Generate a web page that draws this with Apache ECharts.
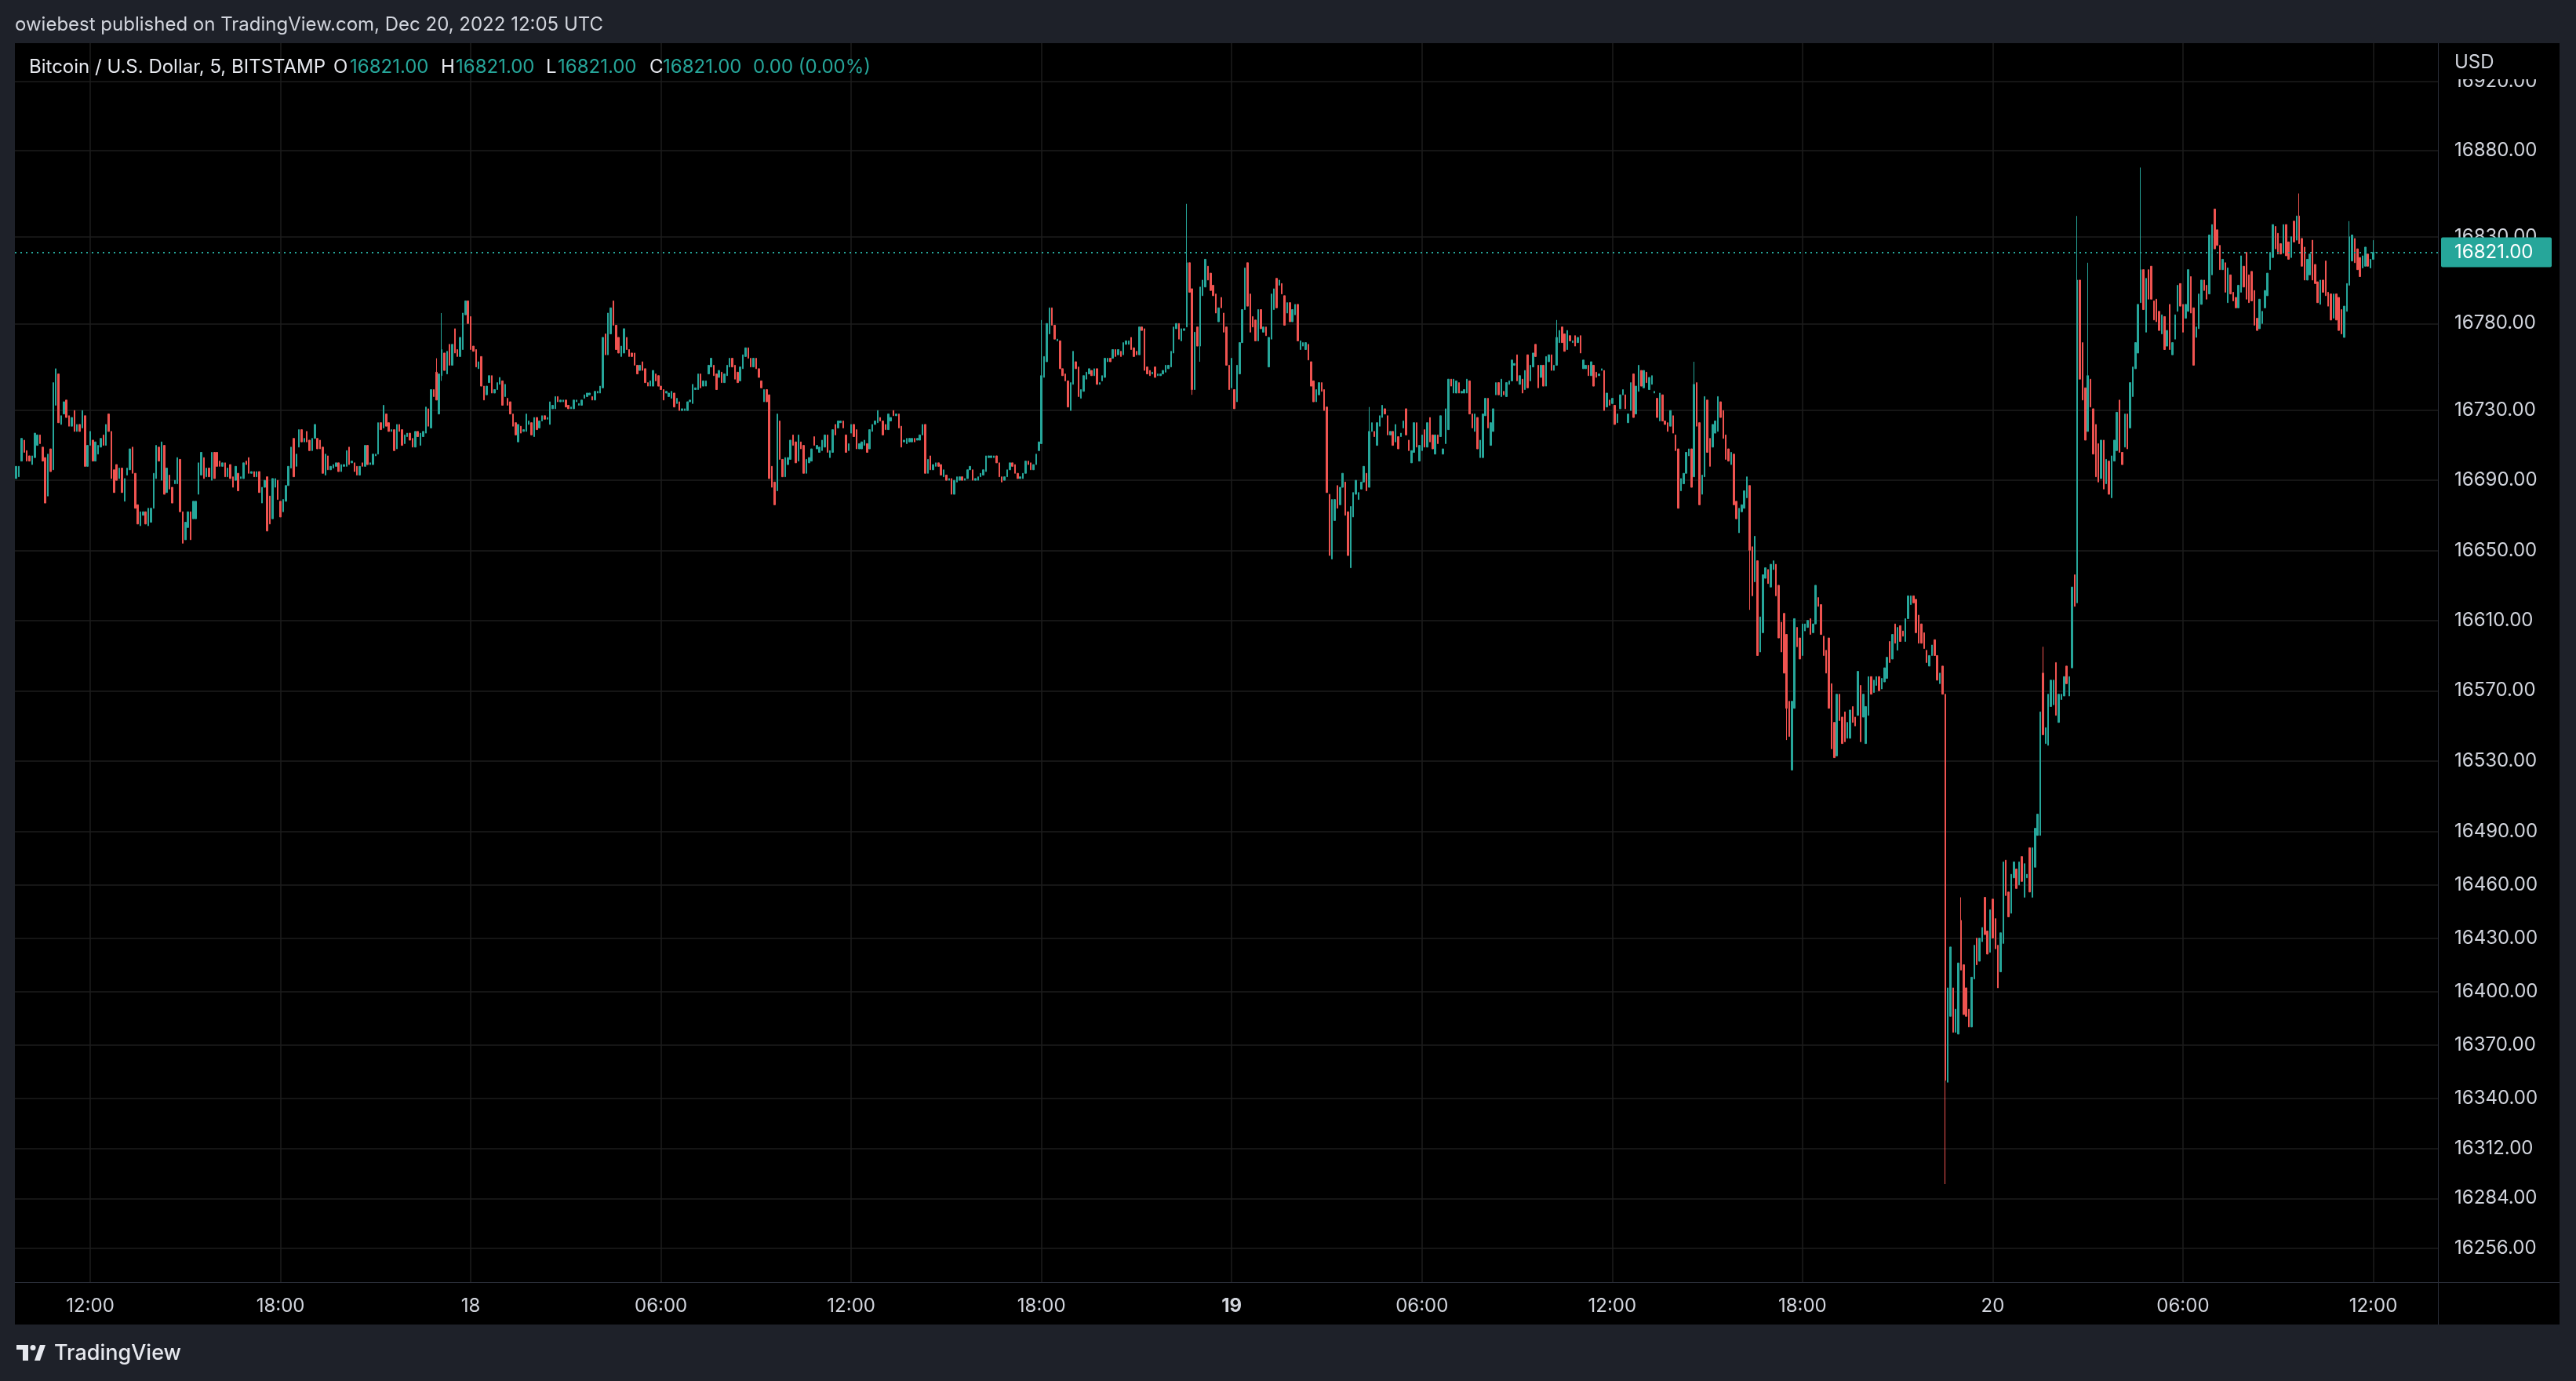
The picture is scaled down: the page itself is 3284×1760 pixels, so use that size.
<!DOCTYPE html>
<html>
<head>
<meta charset="utf-8">
<script src="https://cdn.jsdelivr.net/npm/echarts@6/dist/echarts.min.js"></script>
<style>
html,body{margin:0;padding:0;background:#1e2129;}
#chart{width:3284px;height:1760px;}
</style>
</head>
<body>
<div id="chart"></div>
<script>
// ---- DATA (5-minute candles, [open, close] or [open, close, low, high]) ----
const firstCandleUTC = Date.UTC(2022, 11, 17, 9, 40);
const slotMinutes = 5;
const slotCount = 917;

const candlesDec17 = [
[16691,16698],[16692,16698],[16701,16714],[16713,16706],[16707,16701],[16704,16701],[16699,16704],[16703,16717],[16710,16716],[16716,16711],
[16709,16701],[16703,16677],[16681,16705],[16708,16695],[16696,16746],[16733,16754],[16751,16723],[16722,16727],[16728,16735],[16736,16726],
[16727,16721],[16721,16726],[16730,16718],[16718,16722],[16722,16718],[16720,16730],[16727,16698],[16698,16710],[16710,16718],[16713,16701],
[16701,16712],[16705,16710],[16709,16714],[16716,16710],[16710,16722],[16728,16718],[16718,16691],[16696,16683],[16699,16690],[16691,16697],
[16697,16683],[16678,16691],[16693,16697],[16696,16708],[16709,16694],[16694,16674],[16676,16665],[16664,16672],[16670,16672],[16672,16665],
[16664,16674],[16666,16674],[16674,16694],[16691,16710],[16709,16701],[16690,16712],[16710,16682],[16683,16697],[16693,16685],[16686,16677],
[16688,16690],[16688,16703],[16702,16672],[16672,16654],[16656,16666],[16663,16672],[16672,16656],[16668,16678],[16668,16678],[16682,16700],
[16693,16706],[16703,16691],[16692,16697],[16697,16692],[16690,16706],[16706,16691],[16706,16698],[16701,16698],[16698,16700],[16700,16692],
[16692,16697],[16699,16691],[16692,16686],[16690,16698],[16694,16684],[16691,16692],[16691,16700],[16701,16699],[16703,16694],
[16694,16695],[16695,16692],[16692,16695],[16695,16683],[16677,16686],[16686,16690],[16692,16661],[16681,16665],[16668,16691],[16686,16691],
[16690,16679],[16678,16669],[16672,16679],[16678,16687],[16687,16698],[16697,16709],[16714,16692],[16698,16705],[16709,16719],[16719,16712],
[16712,16714],[16718,16712],[16713,16707],[16707,16714],[16714,16722],[16714,16708],[16713,16708],[16709,16694],[16693,16705],[16704,16696],
[16696,16698],[16697,16699],[16698,16700],[16700,16695],[16695,16699],[16698,16699],[16698,16707],[16709,16699],[16700,16701],[16700,16695],
[16698,16693],[16693,16698],[16700,16698],[16698,16710],[16710,16699],[16699,16700],[16699,16705],[16704,16705],[16705,16723],[16723,16719],
[16720,16733],[16728,16721],[16723,16718],[16718,16719],[16719,16707],[16708,16722],[16722,16718],[16719,16710],[16711,16716],[16715,16717],
[16717,16713],[16714,16709],[16709,16718],[16718,16715],[16710,16717],[16715,16718],[16717,16732],[16731,16721],[16720,16742],[16742,16738],
[16752,16736,16736,16760],[16728,16751],[16750,16765,16747,16786],[16763,16753],[16751,16764],[16768,16756],[16756,16768],[16777,16763],[16765,16761],[16761,16772],
[16765,16786],[16785,16793],[16793,16780]
];

const candlesDec18 = [
[16784,16765],[16767,16764],[16765,16755],[16754,16758],[16761,16744],[16744,16736],
[16739,16744],[16746,16750],[16750,16740],[16740,16742],[16742,16746],[16745,16749],[16747,16733],[16738,16745],[16737,16733],[16735,16728],
[16728,16721],[16723,16716],[16712,16722],[16721,16717],[16718,16719],[16718,16728],[16722,16724],[16723,16716],[16715,16726],[16726,16719],
[16720,16724],[16724,16727],[16727,16725],[16725,16726],[16722,16735],[16731,16733],[16731,16738],[16738,16735],[16735,16736],[16735,16736],
[16736,16732],[16733,16731],[16731,16732],[16731,16736],[16735,16736],[16733,16734],[16733,16736],[16737,16739],[16738,16740],[16739,16740],
[16738,16736],[16736,16741],[16740,16741],[16740,16744],[16743,16772],[16774,16762],[16762,16786],[16774,16789],[16793,16779],[16779,16765],
[16772,16763],[16761,16767],[16763,16777],[16772,16765],[16765,16761],[16763,16761],[16763,16756],[16756,16751],[16753,16756],[16758,16753],
[16754,16746],[16746,16744],[16744,16747],[16744,16753],[16751,16747],[16750,16744],[16744,16742],[16742,16736],[16740,16741],[16738,16740],
[16737,16741],[16740,16732],[16734,16737],[16735,16730],[16730,16731],[16730,16731],[16730,16735],[16735,16736],[16734,16745],[16742,16743],
[16742,16751],[16751,16743],[16744,16747],[16744,16747],[16751,16756],[16755,16760],[16756,16750],[16751,16742],[16749,16753],[16752,16746],
[16746,16751],[16750,16756],[16755,16760],[16760,16755],[16756,16748],[16752,16746],[16747,16755],[16754,16762],[16761,16766],[16766,16760],
[16760,16755],[16755,16760],[16760,16754],[16754,16749],[16747,16743],[16735,16742],[16742,16735],[16739,16691],[16698,16686],[16689,16676],
[16684,16728],[16724,16702],[16702,16692],[16692,16703],[16699,16703],[16702,16713],[16716,16710],[16712,16700],[16701,16716],[16712,16708],
[16710,16694],[16694,16702],[16700,16703],[16701,16708],[16715,16710],[16708,16710],[16706,16709],[16707,16713],[16709,16716],[16716,16706],
[16703,16707],[16706,16719],[16722,16716],[16720,16724],[16723,16724],[16724,16720],[16716,16706],[16707,16711],[16717,16722],[16722,16715],
[16719,16708],[16708,16711],[16708,16712],[16710,16713],[16711,16706],[16708,16719],[16718,16722],[16722,16724],[16723,16730],[16726,16724],
[16724,16716],[16722,16719],[16719,16728],[16724,16726],[16730,16727],[16727,16728],[16728,16720],[16721,16709],[16712,16713],[16711,16714],
[16712,16714],[16712,16714],[16714,16712],[16713,16714],[16713,16716],[16716,16722],[16722,16694],[16694,16702],[16704,16696],[16696,16699],
[16698,16700],[16700,16698],[16699,16693],[16692,16696],[16693,16690],[16690,16691],[16691,16682],[16682,16690],[16689,16692],[16690,16692],
[16692,16690],[16690,16691],[16691,16696],[16696,16698],[16696,16690],[16690,16691],[16690,16692],[16692,16694],[16693,16696],[16695,16704],
[16703,16704],[16703,16704],[16703,16704],[16704,16700],[16700,16692],[16692,16689],[16690,16692],[16692,16696],[16696,16700],[16700,16698],
[16699,16694],[16694,16691],[16691,16692],[16691,16694],[16694,16701],[16701,16699],[16700,16696],[16696,16699],[16699,16705],[16707,16712],
[16711,16750,16711,16782],[16749,16761],[16758,16780],[16774,16789],[16789,16779],[16779,16771],[16770,16771],[16770,16754],[16754,16750],[16751,16747],
[16747,16732],[16730,16746],[16745,16764],[16758,16754],[16755,16738],[16737,16742],[16741,16750],[16748,16752],[16751,16754],[16753,16750],
[16750,16754],[16754,16745],[16745,16746],[16747,16750],[16749,16760],[16758,16760],[16760,16758],[16760,16765],[16765,16761],[16762,16765],
[16764,16761],[16762,16769],[16768,16770],[16768,16770],[16772,16765],[16766,16761],[16764,16762],[16762,16778],[16778,16776],[16777,16753],
[16755,16751],[16753,16750],[16751,16752],[16755,16749],[16750,16751],[16750,16751],[16751,16753],[16752,16756],[16754,16756],[16755,16764],
[16763,16778],[16777,16780],[16780,16771],[16770,16777],[16776,16777],[16778,16815,16778,16849],[16815,16798],[16800,16742,16739,16800],[16742,16775],[16778,16767],
[16767,16801,16758,16801],[16796,16805],[16801,16817],[16813,16805],[16809,16799],[16802,16796],[16797,16786],[16781,16789],[16795,16789],[16786,16775],
[16778,16756],[16756,16742]
];

const candlesDec19 = [
[16743,16760],[16742,16731],[16735,16756],[16751,16769],[16769,16788],[16788,16812],[16815,16790],[16797,16775],[16784,16778],[16782,16770],
[16770,16788],[16788,16777],[16775,16778],[16778,16773],[16755,16772],[16771,16797],[16788,16800],[16806,16789],[16802,16805],[16803,16797],
[16796,16779],[16786,16792],[16792,16781],[16781,16788],[16785,16791],[16791,16770],[16765,16770],[16767,16769],[16765,16769],[16768,16759],
[16758,16744],[16747,16735],[16735,16742],[16739,16746],[16746,16741],[16742,16730],[16732,16683],[16682,16647],[16645,16679],[16667,16679],
[16687,16674],[16676,16686],[16686,16694],[16689,16670],[16672,16647],[16640,16675],[16669,16683],[16682,16690],[16679,16683],[16685,16689],
[16689,16698],[16694,16684],[16686,16718,16686,16732],[16718,16723],[16718,16715],[16710,16723],[16721,16727],[16726,16733],[16731,16728],[16727,16716],
[16716,16718],[16718,16710],[16712,16722],[16715,16708],[16715,16717],[16720,16724],[16731,16716],[16713,16707],[16700,16707],[16706,16723],
[16723,16709],[16701,16710],[16707,16716],[16719,16709],[16709,16723],[16726,16712],[16716,16708],[16705,16716],[16716,16711],[16715,16727],
[16705,16708],[16711,16731],[16719,16748],[16748,16744],[16740,16748],[16740,16747],[16746,16740],[16740,16741],[16740,16742],[16740,16748],
[16747,16728],[16728,16720],[16718,16728],[16726,16708],[16703,16713],[16703,16728],[16727,16737],[16737,16720],[16710,16723],[16718,16731],
[16739,16746],[16746,16739],[16738,16748],[16741,16739],[16738,16746],[16745,16747],[16747,16759],[16756,16757],[16762,16747],[16745,16750],
[16748,16740],[16742,16753],[16762,16743],[16747,16756],[16755,16763],[16768,16761],[16756,16743],[16749,16756],[16756,16744],[16744,16761],
[16758,16762],[16762,16753],[16753,16756],[16756,16772,16756,16782],[16769,16776],[16778,16769],[16774,16764],[16765,16776],[16773,16770],[16769,16770],
[16773,16767],[16769,16772],[16773,16763],[16754,16759],[16754,16756],[16756,16750],[16750,16758],[16756,16744],[16752,16749],[16750,16751],
[16753,16754],[16753,16730],[16732,16740],[16736,16733],[16734,16737],[16733,16722],[16723,16728],[16731,16739],[16739,16742],[16739,16731],
[16723,16728],[16730,16746],[16751,16726],[16728,16744],[16741,16756],[16753,16744],[16743,16753],[16752,16746],[16742,16749],[16745,16750],
[16740,16741],[16737,16726],[16724,16740],[16739,16724],[16724,16722],[16723,16718],[16721,16730],[16727,16717],[16716,16707],[16708,16674],
[16684,16691],[16688,16694],[16694,16706],[16704,16708],[16708,16686],[16692,16745,16692,16758],[16746,16721],[16723,16676],[16682,16693],[16692,16738],
[16736,16706],[16714,16698],[16709,16722],[16717,16724],[16718,16738],[16735,16726],[16730,16714],[16716,16702],[16708,16701],[16699,16706],
[16705,16676],[16678,16668],[16660,16674],[16672,16676],[16674,16684],[16680,16692],[16687,16650,16616,16687],[16652,16624],[16632,16658],[16644,16590],
[16592,16612],[16603,16636],[16634,16640],[16639,16631],[16629,16642],[16639,16644],[16642,16624],[16630,16600],[16609,16592],[16614,16580],
[16602,16560,16542,16602],[16564,16544],[16525,16564],[16560,16611],[16606,16595],[16600,16588],[16590,16608],[16604,16608],[16606,16610],[16611,16602],
[16603,16608],[16608,16630],[16623,16618],[16619,16602],[16601,16590],[16593,16580],[16600,16560],[16574,16537],[16552,16532],[16533,16568],
[16568,16553],[16555,16540],[16558,16541],[16543,16552],[16543,16559],[16561,16552],[16555,16550],[16556,16581],[16573,16541],[16555,16568],
[16540,16561],[16556,16578],[16578,16568],[16569,16576],[16573,16578],[16578,16570],[16571,16577],[16575,16583],[16577,16589],[16598,16586],
[16588,16602],[16608,16597],[16593,16606],[16607,16598],[16604,16601],[16598,16611],[16611,16624],[16619,16624],[16624,16620],[16622,16603],
[16613,16597],[16608,16597],[16603,16594],[16593,16586],[16584,16590],[16590,16596],[16599,16590],[16590,16576],[16574,16580],[16584,16568],
[16568,16350,16292,16568],[16349,16402],[16386,16425],[16402,16377],[16377,16390],[16376,16416],[16440,16412,16412,16453],[16415,16387],[16402,16386],[16390,16380],
[16380,16408],[16407,16426],[16430,16415],[16417,16430],[16428,16436],[16453,16432],[16434,16421],[16422,16446]
];

const candlesDec20 = [
[16452,16430],[16441,16424],[16426,16402],[16411,16433],[16427,16473],[16474,16454],[16456,16442],[16444,16466],[16464,16473],[16469,16458],
[16460,16473],[16476,16462],[16453,16472],[16464,16466],[16481,16456],[16453,16481],[16470,16492],[16488,16500],[16488,16558],[16580,16545,16545,16595],
[16540,16549],[16539,16568],[16561,16576],[16562,16576],[16586,16556],[16552,16568],[16565,16568],[16567,16578],[16584,16574],[16567,16578],
[16583,16629],[16636,16618],[16620,16805,16620,16842],[16805,16748],[16769,16736],[16743,16713],[16718,16750,16718,16815],[16748,16732],[16731,16705],[16722,16692],
[16711,16689],[16691,16713],[16713,16685],[16688,16702],[16701,16682],[16680,16704],[16701,16713],[16707,16729],[16736,16706],[16706,16699],
[16709,16728],[16728,16708],[16720,16746],[16738,16755],[16754,16769],[16763,16791],[16792,16811,16792,16870],[16811,16788],[16775,16806],[16811,16794],
[16813,16794],[16793,16782],[16794,16781],[16787,16776],[16774,16785],[16784,16765],[16767,16776],[16791,16765],[16762,16769],[16771,16785],
[16787,16802],[16803,16790],[16791,16775],[16783,16791],[16787,16811],[16807,16786],[16789,16756],[16772,16778],[16777,16797],[16791,16805],
[16805,16799],[16802,16794],[16797,16831],[16808,16837],[16846,16823],[16834,16825],[16825,16811],[16811,16817],[16815,16798],[16792,16812],
[16808,16797],[16798,16793],[16795,16789],[16789,16802],[16798,16819],[16813,16801],[16821,16794],[16808,16792],[16810,16793],[16799,16779],
[16783,16776],[16777,16794],[16780,16787],[16789,16799],[16796,16809],[16811,16821],[16818,16837],[16836,16823],[16832,16820],[16826,16820],
[16821,16837],[16837,16819],[16827,16817],[16818,16830],[16839,16827],[16828,16842],[16842,16826,16826,16855],[16829,16813],[16824,16805],[16805,16817],
[16808,16820],[16828,16805],[16814,16803],[16804,16792],[16791,16805],[16805,16798],[16816,16796],[16798,16790],[16797,16782],[16783,16797],
[16797,16782],[16795,16776],[16788,16774],[16772,16790],[16787,16803],[16802,16830,16802,16839],[16816,16831],[16829,16815],[16823,16811],[16818,16807],
[16812,16819],[16813,16824],[16820,16813],[16812,16817],[16817,16821,16817,16828],[16821,16821]
];

const priceTicks = [16256,16284,16312,16340,16370,16400,16430,16460,16490,16530,16570,16610,16650,16690,16730,16780,16830,16880,16920];
const timeLabelTimes = ['00:00','06:00','12:00','18:00'];
const boldDayLabels = ['19'];
const lastPrice = 16821;
const yMin = 16237.3, yMax = 16942.1;   // logarithmic price scale

const headerText = 'owiebest published on TradingView.com, Dec 20, 2022 12:05 UTC';
const symbolText = 'Bitcoin / U.S. Dollar, 5, BITSTAMP';
const ohlcLegend = [['O','16821.00'],['H','16821.00'],['L','16821.00'],['C','16821.00']];
const changeText = '0.00 (0.00%)';

// ---- BUILD ----
const UP = '#26a69a', DOWN = '#ef5350';
const FONT = 'Inter, Roboto, "Noto Sans", sans-serif';
function pad(n){return (n<10?'0':'')+n;}
const categories = [];
for (let k = 0; k < slotCount; k++) {
  const d = new Date(firstCandleUTC + k * slotMinutes * 60000);
  categories.push(pad(d.getUTCDate()) + ' ' + pad(d.getUTCHours()) + ':' + pad(d.getUTCMinutes()));
}
const allCandles = [].concat(candlesDec17, candlesDec18, candlesDec19, candlesDec20);
const candleData = allCandles.map(c => {
  const o = c[0], cl = c[1];
  const lo = c.length > 2 ? c[2] : Math.min(o, cl);
  const hi = c.length > 2 ? c[3] : Math.max(o, cl);
  return [o, cl, lo, hi];
});
const isMajor = v => timeLabelTimes.indexOf(v.slice(3)) >= 0;
const gridCats = categories.filter(isMajor);

const chart = echarts.init(document.getElementById('chart'), null, {renderer: 'canvas'});
const GL = 19, GT = 55, GW = 3089, GH = 1579;

chart.setOption({
  animation: false,
  backgroundColor: '#1e2129',
  grid: {left: GL, top: GT, width: GW, height: GH, containLabel: false},
  xAxis: {
    type: 'category', data: categories, boundaryGap: true,
    axisLine: {show: true, lineStyle: {color: '#2a2e39', width: 1}},
    axisTick: {show: false},
    splitLine: {show: false},
    axisLabel: {
      interval: (idx, v) => isMajor(v),
      formatter: v => {
        const hm = v.slice(3);
        if (hm === '00:00') {
          const day = v.slice(0, 2);
          return boldDayLabels.indexOf(day) >= 0 ? '{b|' + day + '}' : day;
        }
        return hm;
      },
      color: '#d1d4dc', fontSize: 24, fontFamily: FONT, margin: 19,
      rich: {b: {fontWeight: 'bold', fontSize: 24, fontFamily: FONT, color: '#d1d4dc'}}
    }
  },
  yAxis: {
    type: 'log', logBase: 10, position: 'right', min: yMin, max: yMax,
    splitLine: {show: false}, axisTick: {show: false}, minorTick: {show: false}, minorSplitLine: {show: false},
    axisLine: {show: false},
    axisLabel: {
      customValues: priceTicks,
      formatter: v => Number(v).toFixed(2),
      color: '#d1d4dc', fontSize: 24, fontFamily: FONT, margin: 21, align: 'left'
    }
  },
  series: [
    {
      type: 'line', data: [], silent: true, z: 1,
      markLine: {
        silent: true, animation: false, z: 1, symbol: ['none', 'none'],
        label: {show: false},
        lineStyle: {color: '#1c1c1c', width: 1.5, type: 'solid'},
        emphasis: {disabled: true},
        data: priceTicks.map(v => ({yAxis: v})).concat(gridCats.map(c => ({xAxis: c})))
      }
    },
    {
      type: 'candlestick', data: candleData, z: 3, large: false, silent: true,
      barWidth: 2,
      itemStyle: {color: UP, color0: DOWN, borderColor: UP, borderColor0: DOWN, borderColorDoji: UP, borderWidth: 1},
      markLine: {
        silent: true, animation: false, z: 6, symbol: ['none', 'none'],
        label: {show: false},
        lineStyle: {color: UP, width: 2, type: [2, 5]},
        emphasis: {disabled: true},
        data: [{yAxis: lastPrice}]
      }
    }
  ]
});

const priceY = chart.convertToPixel({yAxisIndex: 0}, lastPrice);
const legendY = 86;
const g = [];
g.push({type: 'rect', z: -100, silent: true, shape: {x: 19, y: 55, width: 3244, height: 1633}, style: {fill: '#000000'}});
g.push({type: 'text', z: 50, x: 19, y: 32, style: {text: headerText, fill: '#d1d4dc', font: '24px ' + FONT, verticalAlign: 'middle'}});
g.push({type: 'text', z: 50, x: 37, y: legendY, style: {text: symbolText, fill: '#e6e8ee', font: '24px ' + FONT, verticalAlign: 'middle'}});
const letterX = [425, 562, 696, 828], valueX = [446, 581, 711, 845];
ohlcLegend.forEach((p, k) => {
  g.push({type: 'text', z: 50, x: letterX[k], y: legendY, style: {text: p[0], fill: '#e6e8ee', font: '24px ' + FONT, verticalAlign: 'middle'}});
  g.push({type: 'text', z: 50, x: valueX[k], y: legendY, style: {text: p[1], fill: UP, font: '24px ' + FONT, verticalAlign: 'middle'}});
});
g.push({type: 'text', z: 50, x: 960, y: legendY, style: {text: changeText, fill: UP, font: '24px ' + FONT, verticalAlign: 'middle'}});
// price axis header (covers the top of the highest tick label, as in the reference)
g.push({type: 'rect', z: 40, silent: true, shape: {x: 3109, y: 55, width: 154, height: 46}, style: {fill: '#000000'}});
g.push({type: 'text', z: 50, x: 3129, y: 80, style: {text: 'USD', fill: '#d1d4dc', font: '24px ' + FONT, verticalAlign: 'middle'}});
// separators
g.push({type: 'line', z: 45, silent: true, shape: {x1: 3108.5, y1: 55, x2: 3108.5, y2: 1688}, style: {stroke: '#2a2e39', lineWidth: 1}});
g.push({type: 'line', z: 45, silent: true, shape: {x1: 19, y1: 1634.5, x2: 3263, y2: 1634.5}, style: {stroke: '#2a2e39', lineWidth: 1}});
// last price tag
g.push({type: 'rect', z: 60, shape: {x: 3112, y: priceY - 19, width: 141, height: 38, r: 2}, style: {fill: UP}});
g.push({type: 'text', z: 61, x: 3129, y: priceY, style: {text: lastPrice.toFixed(2), fill: '#ffffff', font: '24px ' + FONT, verticalAlign: 'middle'}});
// bottom logo
g.push({type: 'rect', z: 50, shape: {x: 21, y: 1714, width: 15, height: 6}, style: {fill: '#e6e8ee'}});
g.push({type: 'rect', z: 50, shape: {x: 29, y: 1714, width: 7, height: 20}, style: {fill: '#e6e8ee'}});
g.push({type: 'circle', z: 50, shape: {cx: 42, cy: 1717.5, r: 3.5}, style: {fill: '#e6e8ee'}});
g.push({type: 'polygon', z: 50, shape: {points: [[44, 1734], [51, 1714], [58, 1714], [51, 1734]]}, style: {fill: '#e6e8ee'}});
g.push({type: 'text', z: 50, x: 69, y: 1725, style: {text: 'TradingView', fill: '#e6e8ee', font: '500 27px ' + FONT, verticalAlign: 'middle'}});

chart.setOption({graphic: g});
</script>
</body>
</html>
